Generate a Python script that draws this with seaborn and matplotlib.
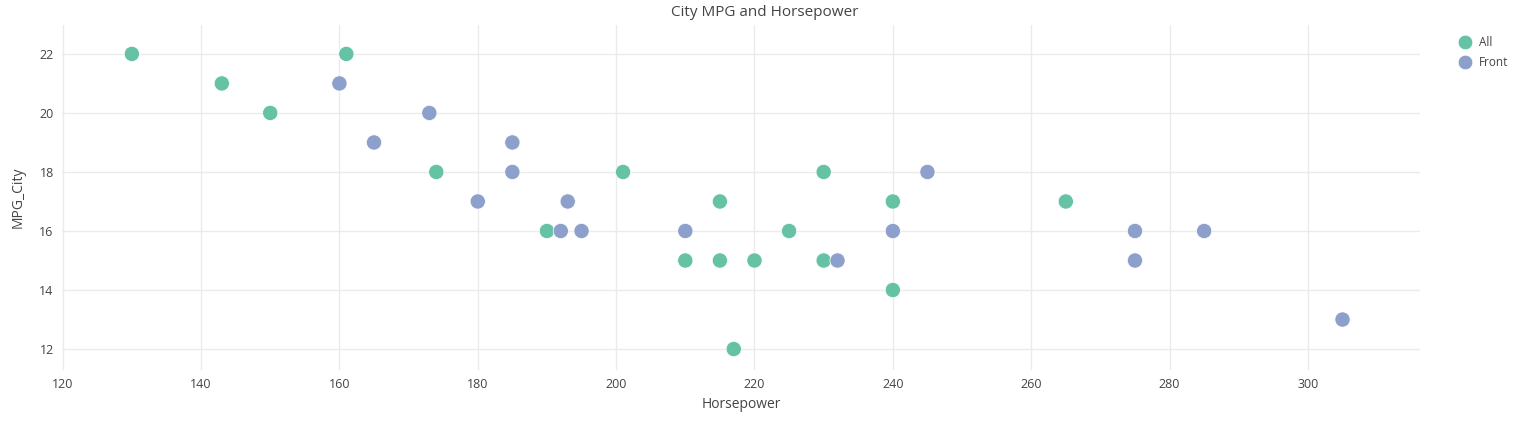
import pandas as pd
import seaborn as sns
import matplotlib.pyplot as plt

# values
all_hp = [130, 143, 150, 161, 174, 190, 201, 210, 215, 215, 217, 220, 225, 230, 230, 240, 240, 265]
all_mpg = [22, 21, 20, 22, 18, 16, 18, 15, 17, 15, 12, 15, 16, 18, 15, 17, 14, 17]
front_hp = [160, 165, 173, 180, 185, 185, 192, 193, 195, 210, 232, 240, 245, 275, 275, 285, 305]
front_mpg = [21, 19, 20, 17, 19, 18, 16, 17, 16, 16, 15, 16, 18, 16, 15, 16, 13]
groups = ['All', 'Front']
colors = {'All': '#66c2a5', 'Front': '#8da0cb'}
x_ticks = [120, 140, 160, 180, 200, 220, 240, 260, 280, 300]
y_ticks = [12, 14, 16, 18, 20, 22]

df = pd.DataFrame({
    'Horsepower': all_hp + front_hp,
    'MPG_City': all_mpg + front_mpg,
    'DriveTrain': [groups[0]] * len(all_hp) + [groups[1]] * len(front_hp),
})

sns.set_style('white')
plt.rcParams['font.family'] = ['Open Sans', 'DejaVu Sans']
text_col = '#444444'

fig = plt.figure(figsize=(15.24, 4.22), dpi=100)
ax = fig.add_axes([62 / 1524, 1 - 370 / 422, (1420 - 62) / 1524, (370 - 25) / 422])

sns.scatterplot(data=df, x='Horsepower', y='MPG_City', hue='DriveTrain', hue_order=groups,
                palette=colors, s=120, edgecolor='white', linewidth=0.5, alpha=1, ax=ax, legend=False)

ax.set_xlim(119.9, 316.2)
ax.set_ylim(11.29, 22.98)
ax.set_xticks(x_ticks)
ax.set_yticks(y_ticks)
ax.grid(True, color='#ebebeb', linewidth=1)
ax.set_axisbelow(True)
for s in ax.spines.values():
    s.set_visible(False)
ax.tick_params(length=0, labelsize=9, colors=text_col, pad=6)
ax.set_xlabel('Horsepower', fontsize=10, color=text_col, labelpad=4)
ax.set_ylabel('MPG_City', fontsize=10, color=text_col, labelpad=10)
fig.text(765 / 1524, 1 - 12 / 422, 'City MPG and Horsepower', ha='center', va='center',
         fontsize=11, color=text_col)

# legend on the right, outside the plot
handles = [plt.Line2D([], [], marker='o', linestyle='', markersize=10.5, markerfacecolor=colors[g],
                      markeredgecolor='white', markeredgewidth=0.5) for g in groups]
fig.legend(handles, groups, loc='upper left', bbox_to_anchor=(1458 / 1524, 1 - 36 / 422),
           frameon=False, fontsize=8.5, labelcolor=text_col, handletextpad=0.6,
           labelspacing=0.6, handlelength=1.2, borderaxespad=0, borderpad=0)

fig.savefig('out.png', dpi=100)
